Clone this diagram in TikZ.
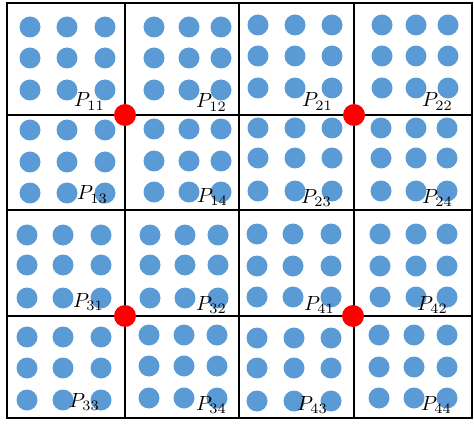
\documentclass[tikz,border=0pt]{standalone}
\usepackage{graphicx}
\definecolor{dotblue}{HTML}{5B9BD5}
\definecolor{dotred}{HTML}{FF0000}
\begin{document}
\begin{tikzpicture}[x=1pt,y=-1pt,
  bluedot/.style={circle,fill=dotblue,draw=none,minimum size=21pt,inner sep=0pt},
  reddot/.style={circle,fill=dotred,draw=none,minimum size=22pt,inner sep=0pt},
  gridline/.style={draw=black,line width=1.6pt},
  plabel/.style={anchor=base west,inner sep=0pt}]
\useasboundingbox (0,0) rectangle (474,441);
% blue dots per cell: name / x1,x2,x3 / y1,y2,y3
\foreach \n/\xa/\xb/\xc/\ya/\yb/\yc in {
  11/30/67/105/27/58/90,
  12/154/189/221/27/58/90,
  13/30/67/105/130/162/193,
  14/154/189/221/129/161/192,
  21/258/295/332/25/56/88,
  22/382/416/448/25/56/88,
  23/258/295/332/128/158/191,
  24/381/416/447/128/158/191,
  31/27/63/101/235/265/298,
  32/150/185/218/235/265/298,
  33/27/63/101/337/368/400,
  34/149/184/217/335/366/398,
  41/257/293/331/234/266/297,
  42/380/416/447/234/266/297,
  43/257/294/331/338/368/401,
  44/379/414/447/335/367/398}{
  \foreach \xx [count=\i] in {\xa,\xb,\xc}{
    \foreach \yy [count=\j] in {\ya,\yb,\yc}{
      \node[bluedot] (d\n-\i-\j) at (\xx,\yy) {};
    }
  }
}
% grid
\draw[gridline] (7,3) rectangle (472,418);
\foreach \x in {125,239,354}{\draw[gridline] (\x,3) -- (\x,418);}
\foreach \y in {115,210,316}{\draw[gridline] (7,\y) -- (472,\y);}
% red dots
\node[reddot] (r1) at (125,115) {};
\node[reddot] (r2) at (354,115) {};
\node[reddot] (r3) at (125,316) {};
\node[reddot] (r4) at (353,316) {};
% labels
\foreach \n/\lx/\ly in {
  11/74/107, 12/196/108, 13/77/200, 14/197/202,
  21/302/107, 22/422/107, 23/301/203, 24/422/203,
  31/73/307, 32/196/310, 33/69/407, 34/196/410,
  41/304/310, 42/417/310, 43/297/410, 44/421/410}{
  \node[plabel] (p\n) at (\lx,\ly) {\scalebox{2.05}{$P_{\n}$}};
}
\end{tikzpicture}
\end{document}
